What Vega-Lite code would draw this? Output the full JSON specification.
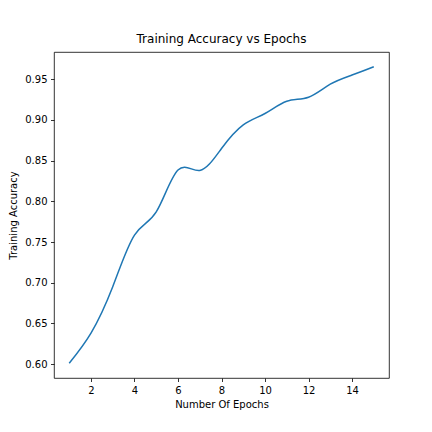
{
  "$schema": "https://vega.github.io/schema/vega-lite/v6.json",
  "autosize": "none",
  "padding": {"left": 54, "top": 52, "right": 43, "bottom": 54},
  "width": 335,
  "height": 326,
  "background": "white",
  "title": {
    "text": "Training Accuracy vs Epochs",
    "font": "DejaVu Sans",
    "fontSize": 12,
    "fontWeight": "normal",
    "color": "black",
    "offset": 6
  },
  "config": {
    "view": {"stroke": "black", "strokeWidth": 0.8},
    "axis": {
      "grid": false,
      "domain": false,
      "tickColor": "black",
      "tickSize": 3.5,
      "tickWidth": 0.8,
      "labelFont": "DejaVu Sans",
      "labelFontSize": 10,
      "labelColor": "black",
      "labelPadding": 3.5,
      "titleFont": "DejaVu Sans",
      "titleFontSize": 10,
      "titleFontWeight": "normal",
      "titleColor": "black"
    }
  },
  "data": {
    "values": [
      {"epoch": 1, "accuracy": 0.6010},
      {"epoch": 2, "accuracy": 0.6380},
      {"epoch": 3, "accuracy": 0.6950},
      {"epoch": 4, "accuracy": 0.7585},
      {"epoch": 5, "accuracy": 0.7870},
      {"epoch": 6, "accuracy": 0.8385},
      {"epoch": 7, "accuracy": 0.8380},
      {"epoch": 8, "accuracy": 0.8650},
      {"epoch": 9, "accuracy": 0.8940},
      {"epoch": 10, "accuracy": 0.9080},
      {"epoch": 11, "accuracy": 0.9230},
      {"epoch": 12, "accuracy": 0.9280},
      {"epoch": 13, "accuracy": 0.9440},
      {"epoch": 14, "accuracy": 0.9553},
      {"epoch": 15, "accuracy": 0.9655}
    ]
  },
  "mark": {"type": "line", "interpolate": "natural", "color": "#1f77b4", "strokeWidth": 1.5},
  "encoding": {
    "x": {
      "field": "epoch",
      "type": "quantitative",
      "title": "Number Of Epochs",
      "scale": {"domain": [0.3, 15.7], "nice": false, "zero": false},
      "axis": {"values": [2, 4, 6, 8, 10, 12, 14], "titlePadding": 4}
    },
    "y": {
      "field": "accuracy",
      "type": "quantitative",
      "title": "Training Accuracy",
      "scale": {"domain": [0.5828, 0.9836], "nice": false, "zero": false},
      "axis": {"values": [0.6, 0.65, 0.7, 0.75, 0.8, 0.85, 0.9, 0.95], "format": ".2f", "titlePadding": 6}
    }
  }
}
